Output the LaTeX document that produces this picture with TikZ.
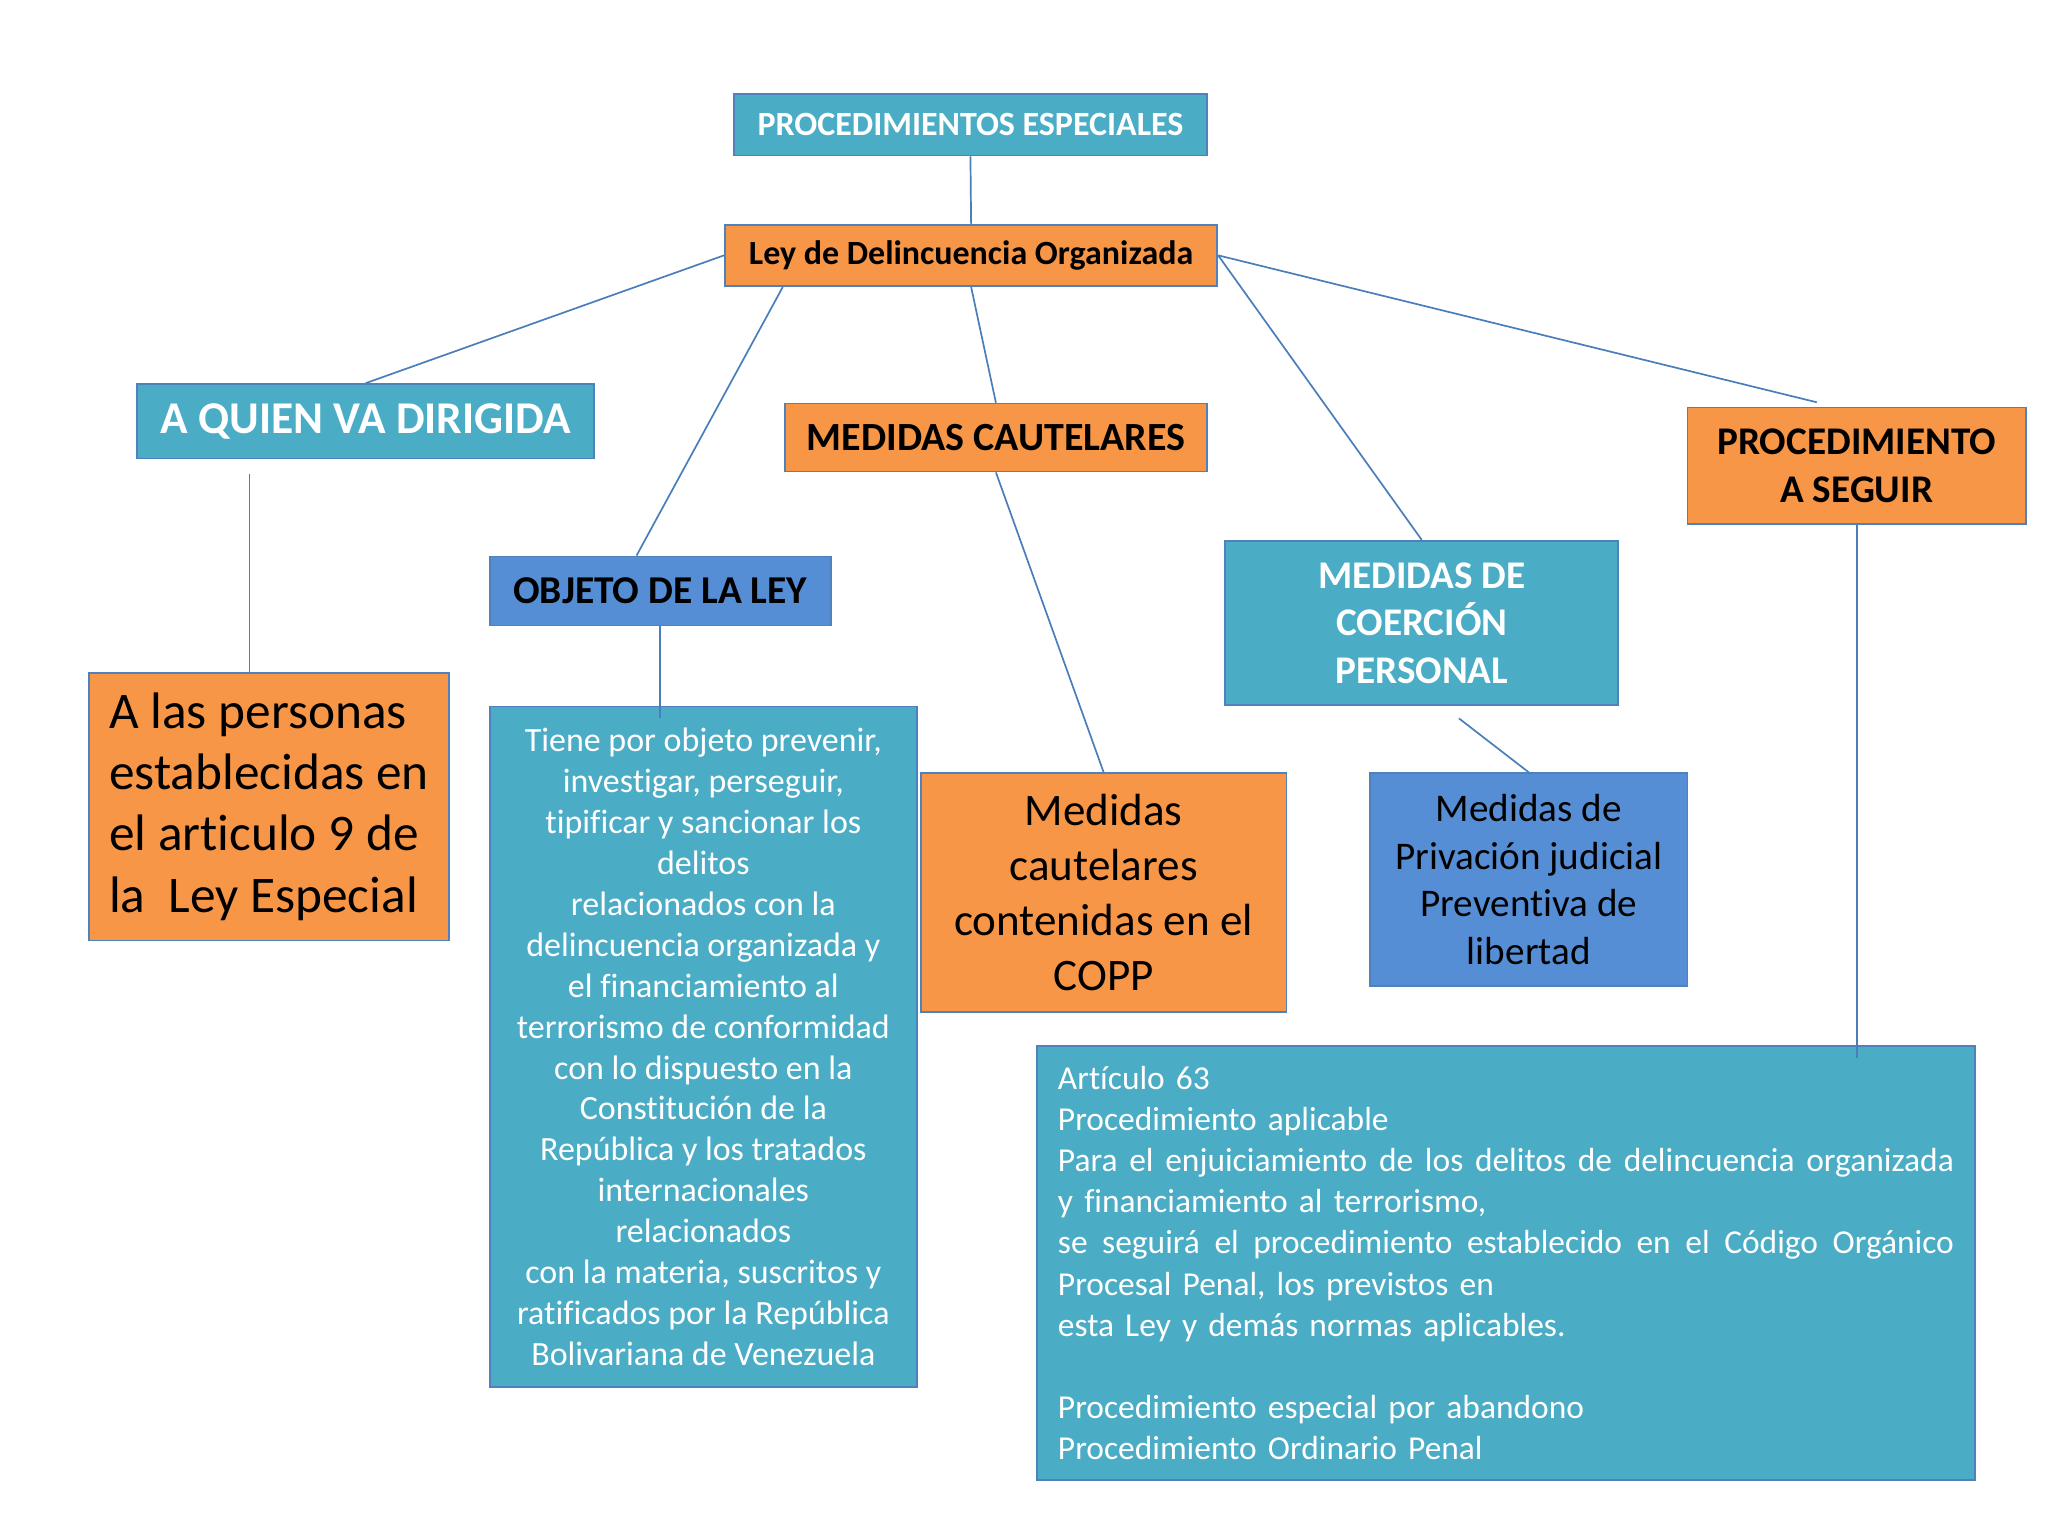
\documentclass[tikz,border=0pt]{standalone}
\usepackage{fontspec}
\setmainfont{Carlito}[Ligatures={NoCommon}]
\usetikzlibrary{calc}
\definecolor{teal1}{HTML}{4BACC6}
\definecolor{orange1}{HTML}{F79646}
\definecolor{blue1}{HTML}{558ED5}
\definecolor{edge1}{HTML}{4F81BD}
\definecolor{line1}{HTML}{4A7EBB}
\newcommand\jline[1]{\leavevmode\hbox to 686pt{\spaceskip=0.226em plus 1fil\relax #1}}
\tikzset{
  box/.style={draw=edge1, line width=1.3pt, inner sep=0pt, align=center},
  tealbox/.style={box, fill=teal1, text=white},
  orangebox/.style={box, fill=orange1, text=black},
  bluebox/.style={box, fill=blue1, text=black},
  conn/.style={draw=line1, line width=1.3pt},
}
\begin{document}
\begin{tikzpicture}[x=1pt,y=-1pt]
\useasboundingbox[fill=white] (0,0) rectangle (1568,1176);

\node[tealbox, minimum width=362pt, minimum height=47pt, font=\bfseries\fontsize{26}{31}\selectfont] (pe) at (743,95.5) {PROCEDIMIENTOS ESPECIALES};
\node[orangebox, minimum width=377pt, minimum height=47pt, font=\bfseries\fontsize{26}{31}\selectfont] (ley) at (743.5,195.5) {Ley de Delincuencia Organizada};

\node[tealbox, minimum width=350pt, minimum height=57pt, font=\bfseries\fontsize{34.8}{40}\selectfont] (aq) at (280,322.5) {A QUIEN VA DIRIGIDA};
\node[orangebox, minimum width=276pt, minimum height=205pt, font=\fontsize{39.3}{47}\selectfont, align=left] (alp) at (206,617.5) {A las personas\\establecidas en\\el articulo 9 de\\la\ \ Ley Especial};

\node[bluebox, minimum width=261pt, minimum height=53pt, font=\bfseries\fontsize{30.2}{36}\selectfont] (obj) at (505.5,452.5) {OBJETO DE LA LEY};
\node[tealbox, minimum width=327pt, minimum height=521pt, font=\fontsize{26}{31.35}\selectfont] (tiene) at (538.5,801.5) {Tiene por objeto prevenir,\\investigar, perseguir,\\tipificar y sancionar los\\delitos\\relacionados con la\\delincuencia organizada y\\el financiamiento al\\terrorismo de conformidad\\con lo dispuesto en la\\Constitución de la\\República y los tratados\\internacionales\\relacionados\\con la materia, suscritos y\\ratificados por la República\\Bolivariana de Venezuela};

\node[orangebox, minimum width=323pt, minimum height=52pt, font=\bfseries\fontsize{30.6}{36}\selectfont] (mc) at (762.5,335) {MEDIDAS CAUTELARES};
\node[orangebox, minimum width=280pt, minimum height=183pt, font=\fontsize{34.5}{42}\selectfont] (mcc) at (845,683.5) {Medidas\\cautelares\\contenidas en el\\COPP};

\node[tealbox, minimum width=301pt, minimum height=126pt, font=\bfseries\fontsize{30}{36.5}\selectfont] (mcp) at (1088.5,477) {MEDIDAS DE\\COERCIÓN\\PERSONAL};
\node[bluebox, minimum width=243pt, minimum height=163pt, font=\fontsize{30}{36.5}\selectfont] (mpj) at (1170.5,673.5) {Medidas de\\Privación judicial\\Preventiva de\\libertad};

\node[orangebox, minimum width=259pt, minimum height=89pt, font=\bfseries\fontsize{30}{37}\selectfont] (pas) at (1421.5,356.5) {PROCEDIMIENTO\\A SEGUIR};

\node[tealbox, minimum width=718pt, minimum height=332pt, text width=686pt, align=left, font=\fontsize{25.6}{31.45}\selectfont] (art) at (1153,967) {Artículo 63\\Procedimiento aplicable\\\jline{Para el enjuiciamiento de los delitos de delincuencia organizada}\\y financiamiento al terrorismo,\\\jline{se seguirá el procedimiento establecido en el Código Orgánico}\\Procesal Penal, los previstos en\\esta Ley y demás normas aplicables.\\\mbox{}\\Procedimiento especial por abandono\\Procedimiento Ordinario Penal};

\coordinate (c1) at (191,363);
\coordinate (c2) at (1117,550);
\coordinate (c3) at (1391,308);

\draw[conn] (pe.south) -- (ley.north);
\draw[conn] (aq.north) -- (ley.west);
\draw[conn] (c1) -- (c1 |- alp.north);
\draw[conn] ($(ley.south west)+(45,0)$) -- ($(obj.north west)+(113,0)$);
\draw[conn] (obj.south) -- ($(obj.south |- tiene.north)+(0,9)$);
\draw[conn] (ley.south) -- (mc.north);
\draw[conn] (mc.south) -- (mcc.north);
\draw[conn] (ley.east) -- (mcp.north);
\draw[conn] (ley.east) -- (c3);
\draw[conn] (c2) -- (mpj.north);
\draw[conn] (pas.south) -- ($(pas.south |- art.north)+(0,10)$);
\end{tikzpicture}
\end{document}
